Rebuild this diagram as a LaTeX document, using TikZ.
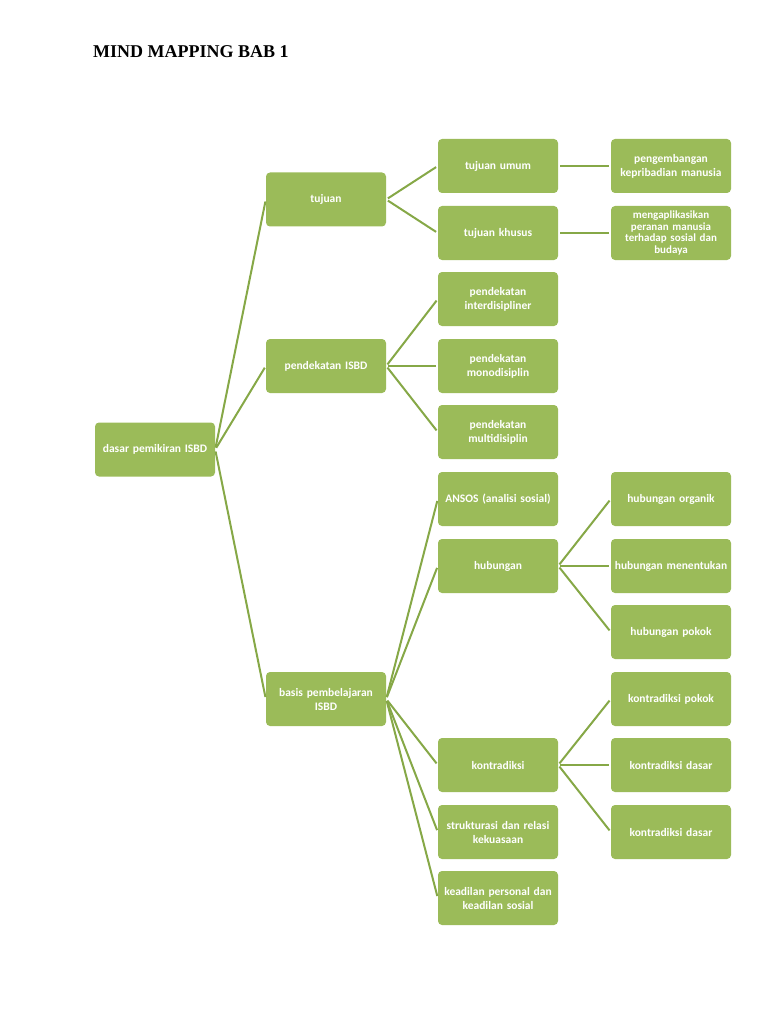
\documentclass[tikz,border=0pt]{standalone}
\usepackage{fontspec}
\setmainfont{Carlito}
\newfontfamily\titlefont{Liberation Serif}
\definecolor{boxgreen}{HTML}{9BBB59}
\definecolor{linegreen}{HTML}{86A847}
\newcommand{\boxfont}{\fontsize{11.5}{14}\selectfont\bfseries}

\begin{document}
\begin{tikzpicture}[x=1pt,y=-1pt,
    topic/.style={fill=boxgreen,rounded corners=4pt,minimum width=120pt,
      minimum height=54pt,text width=116pt,align=center,inner sep=1pt,
      text=white,font=\boxfont},
    branch/.style={draw=linegreen,line width=2pt,shorten <=2pt,shorten >=2pt}]
  \useasboundingbox (0,0) rectangle (768,1024);
  \node[anchor=base west,inner sep=0pt,font=\titlefont\fontsize{18}{21}\selectfont\bfseries]
    (title) at (93,58) {MIND MAPPING BAB 1};

  \node[topic] (dasar) at (155,449.5) {dasar pemikiran ISBD};

  \node[topic] (tujuan) at (326,199.5) {tujuan};
  \node[topic] (pendekatan) at (326,366) {pendekatan ISBD};
  \node[topic] (basis) at (326,699) {basis pembelajaran\\ISBD};

  \node[topic] (umum) at (498,166) {tujuan umum};
  \node[topic] (khusus) at (498,233) {tujuan khusus};
  \node[topic] (inter) at (498,299) {pendekatan\\interdisipliner};
  \node[topic] (mono) at (498,366) {pendekatan\\monodisiplin};
  \node[topic] (multi) at (498,432) {pendekatan\\multidisiplin};
  \node[topic] (ansos) at (498,499) {ANSOS (analisi sosial)};
  \node[topic] (hubungan) at (498,566) {hubungan};
  \node[topic] (kontradiksi) at (498,765) {kontradiksi};
  \node[topic] (struktur) at (498,832) {strukturasi dan relasi\\kekuasaan};
  \node[topic] (keadilan) at (498,898) {keadilan personal dan\\keadilan sosial};

  \node[topic] (kepribadian) at (671,166) {pengembangan\\kepribadian manusia};
  \node[topic,font=\fontsize{11}{11.7}\selectfont\bfseries] (peranan) at (671,233)
    {mengaplikasikan\\peranan manusia\\terhadap sosial dan\\budaya};
  \node[topic] (organik) at (671,499) {hubungan organik};
  \node[topic] (menentukan) at (671,566) {hubungan menentukan};
  \node[topic] (pokok) at (671,632) {hubungan pokok};
  \node[topic] (kpokok) at (671,699) {kontradiksi pokok};
  \node[topic] (kdasar) at (671,765) {kontradiksi dasar};
  \node[topic] (kdasarb) at (671,832) {kontradiksi dasar};

  \draw[branch] (dasar.east) -- (tujuan.west);
  \draw[branch] (dasar.east) -- (pendekatan.west);
  \draw[branch] (dasar.east) -- (basis.west);

  \draw[branch] (tujuan.east) -- (umum.west);
  \draw[branch] (tujuan.east) -- (khusus.west);
  \draw[branch] (pendekatan.east) -- (inter.west);
  \draw[branch] (pendekatan.east) -- (mono.west);
  \draw[branch] (pendekatan.east) -- (multi.west);
  \draw[branch] (basis.east) -- (ansos.west);
  \draw[branch] (basis.east) -- (hubungan.west);
  \draw[branch] (basis.east) -- (kontradiksi.west);
  \draw[branch] (basis.east) -- (struktur.west);
  \draw[branch] (basis.east) -- (keadilan.west);

  \draw[branch] (umum.east) -- (kepribadian.west);
  \draw[branch] (khusus.east) -- (peranan.west);
  \draw[branch] (hubungan.east) -- (organik.west);
  \draw[branch] (hubungan.east) -- (menentukan.west);
  \draw[branch] (hubungan.east) -- (pokok.west);
  \draw[branch] (kontradiksi.east) -- (kpokok.west);
  \draw[branch] (kontradiksi.east) -- (kdasar.west);
  \draw[branch] (kontradiksi.east) -- (kdasarb.west);
\end{tikzpicture}
\end{document}
